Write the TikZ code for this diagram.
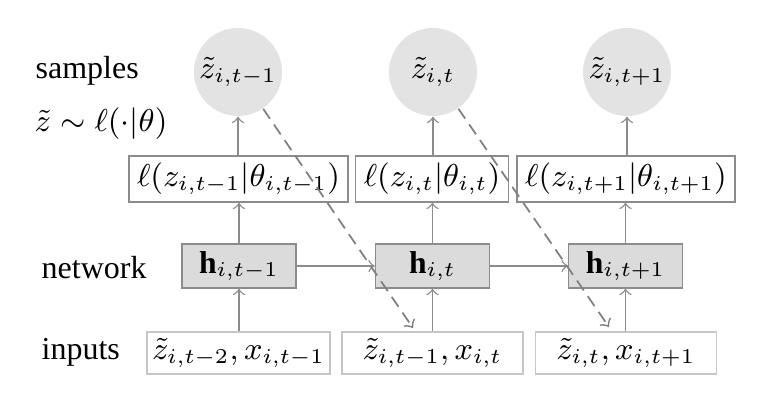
\documentclass[tikz,border=0pt]{standalone}
\usepackage{fontspec}
\setmainfont{Liberation Serif}
\usepackage{amsmath}
\usetikzlibrary{positioning}

\tikzset{
  sample/.style={circle,fill=gray!22,minimum size=0.88cm,inner sep=0pt},
  likbox/.style={draw=gray!90,minimum height=0.46cm,inner xsep=2.3pt,inner ysep=1pt},
  netbox/.style={draw=gray!90,fill=gray!28,minimum height=0.44cm,minimum width=1.14cm,inner sep=1pt},
  inbox/.style={draw=gray!45,minimum height=0.42cm,minimum width=1.81cm,inner xsep=1.5pt,inner ysep=1pt},
  flow/.style={->,gray!90},
  feed/.style={->,gray,line width=0.5pt,dash pattern=on 3.4pt off 2pt},
  rowlabel/.style={anchor=west,inner sep=0pt,font=\fontsize{9.1}{11}\selectfont}
}

\begin{document}
\begin{tikzpicture}[font=\fontsize{9}{11}\selectfont]
  \useasboundingbox (0,0) rectangle (7.76,4.02);

  \node[rowlabel] (lsamples) at (0.35,3.31) {samples};
  \node[rowlabel] (ldist) at (0.34,2.78) {$\tilde z\sim\ell(\cdot|\theta)$};
  \node[rowlabel] (lnet) at (0.41,1.34) {network};
  \node[rowlabel] (lin) at (0.41,0.50) {inputs};

  \node[sample] (z1) at (2.38,3.30) {$\tilde z_{i,t-1}$};
  \node[sample] (z2) at (4.33,3.30) {$\tilde z_{i,t}$};
  \node[sample] (z3) at (6.27,3.30) {$\tilde z_{i,t+1}$};

  \node[likbox] (lik1) at (2.385,2.23) {$\ell(z_{i,t-1}|\theta_{i,t-1})$};
  \node[likbox] (lik2) at (4.32,2.23) {$\ell(z_{i,t}|\theta_{i,t})$};
  \node[likbox] (lik3) at (6.26,2.23) {$\ell(z_{i,t+1}|\theta_{i,t+1})$};

  \node[netbox] (h1) at (2.39,1.36) {$\mathbf{h}_{i,t-1}$};
  \node[netbox] (h2) at (4.325,1.36) {$\mathbf{h}_{i,t}$};
  \node[netbox] (h3) at (6.255,1.36) {$\mathbf{h}_{i,t+1}$};

  \node[inbox] (in1) at (2.385,0.49) {$\tilde z_{i,t-2},x_{i,t-1}$};
  \node[inbox] (in2) at (4.325,0.49) {$\tilde z_{i,t-1},x_{i,t}$};
  \node[inbox] (in3) at (6.26,0.49) {$\tilde z_{i,t},x_{i,t+1}$};

  \coordinate (tip2) at (4.13,0.74);
  \coordinate (tip3) at (6.09,0.75);

  \draw[flow] (in1.north -| h1) -- (h1);
  \draw[flow] (in2.north -| h2) -- (h2);
  \draw[flow] (in3.north -| h3) -- (h3);
  \draw[flow] (h1) -- (lik1.south -| h1);
  \draw[flow] (h2) -- (lik2.south -| h2);
  \draw[flow] (h3) -- (lik3.south -| h3);
  \draw[flow] (lik1.north -| z1) -- (z1);
  \draw[flow] (lik2.north -| z2) -- (z2);
  \draw[flow] (lik3.north -| z3) -- (z3);
  \draw[flow] (h1) -- (h2);
  \draw[flow] (h2) -- (h3);

  \draw[feed] (z1) -- (tip2);
  \draw[feed] (z2) -- (tip3);
\end{tikzpicture}
\end{document}
